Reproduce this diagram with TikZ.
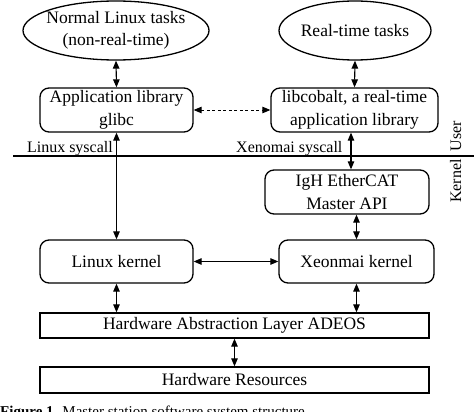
\documentclass[tikz,border=0pt]{standalone}
\usepackage{fontspec}
\setmainfont{Liberation Serif}
\usetikzlibrary{shapes.geometric,arrows.meta}
\tikzset{
  task/.style={ellipse,draw=black,line width=1.3pt,inner xsep=-15pt,inner ysep=0pt,align=center,font=\fontsize{17.5}{22.5}\selectfont},
  module/.style={rectangle,rounded corners=9pt,draw=black,line width=1.3pt,inner ysep=2pt,align=center,font=\fontsize{17.5}{22.5}\selectfont},
  layer/.style={rectangle,draw=black,line width=1.3pt,font=\fontsize{17.5}{22.5}\selectfont},
  link/.style={{Triangle[length=8pt,width=6.5pt]}-{Triangle[length=8pt,width=6.5pt]},line width=1.1pt},
  tag/.style={inner sep=0pt,font=\fontsize{16}{19}\selectfont}
}
\begin{document}
\begin{tikzpicture}[x=1pt,y=-1pt]
\useasboundingbox (0,0) rectangle (474,412);
\clip (0,0) rectangle (474,412);
% user space
\node[task,minimum width=186pt,minimum height=59pt] (NT) at (116,30.5) {Normal Linux tasks\\(non-real-time)};
\node[task,minimum width=152pt,minimum height=59pt] (RT) at (355,30.5) {Real-time tasks};
\node[module,minimum width=153pt,minimum height=44pt] (AL) at (116.5,110) {Application library\\glibc};
\node[module,minimum width=167pt,minimum height=44pt] (LC) at (354.5,110) {libcobalt, a real-time\\application library};
% kernel space
\node[module,minimum width=164pt,minimum height=44pt] (IGH) at (347,192) {IgH EtherCAT\\Master API};
\node[module,minimum width=153pt,minimum height=43pt] (LK) at (116.5,261.5) {Linux kernel};
\node[module,minimum width=155pt,minimum height=43pt] (XK) at (356.5,261.5) {Xeonmai kernel};
\node[layer,minimum width=389pt,minimum height=25pt] (HAL) at (234.5,325.5) {Hardware Abstraction Layer ADEOS};
\node[layer,minimum width=389pt,minimum height=26pt] (HR) at (234.5,380) {Hardware Resources};
% user/kernel border
\draw[line width=2pt] (13,156) -- (474,156);
\node[tag,anchor=base east] (LS) at (113,152) {Linux syscall};
\node[tag,anchor=base west] (XS) at (236,152) {Xenomai syscall};
\node[tag,rotate=90,anchor=base] (US) at (461,136) {User};
\node[tag,rotate=90,anchor=base] (KS) at (461,181) {Kernel};
% connections
\draw[link] (NT.south) -- (AL.north);
\draw[link] (RT.south) -- (LC.north);
\draw[link,line width=0.9pt,dash pattern=on 3pt off 2.5pt] (AL.east) -- (LC.west);
\draw[link] (AL.south) -- (LK.north);
\draw[link] ([xshift=-3.5pt]LC.south) -- ([xshift=-3.5pt]LC.south |- IGH.north);
\draw[link] (XK.north |- IGH.south) -- (XK.north);
\draw[link] (LK.east) -- (XK.west);
\draw[link] (LK.south) -- (LK.south |- HAL.north);
\draw[link] (XK.south) -- (XK.south |- HAL.north);
\draw[link] (HAL.south) -- (HR.north);
\node[anchor=base west,inner sep=0pt,font=\fontsize{15}{18}\selectfont] (CAP) at (0,416) {\textbf{Figure 1.} Master station software system structure};
\end{tikzpicture}
\end{document}
